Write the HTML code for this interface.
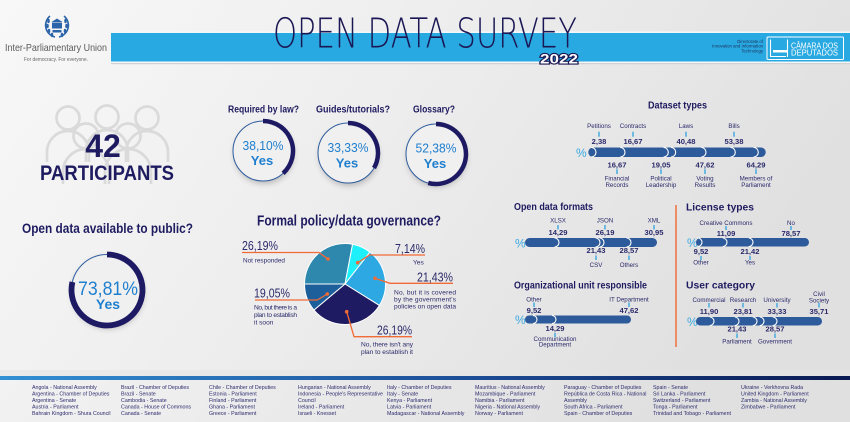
<!DOCTYPE html>
<html><head><meta charset="utf-8"><style>
html,body{margin:0;padding:0;width:850px;height:422px;overflow:hidden;background:#eee}
svg{display:block}
</style></head><body>
<svg width="850" height="422" viewBox="0 0 850 422" xmlns="http://www.w3.org/2000/svg" font-family="'Liberation Sans', Arial, sans-serif">
<defs>
<linearGradient id="bg" x1="0" y1="0" x2="1" y2="0.35">
<stop offset="0" stop-color="#f8f8f8"/><stop offset="0.5" stop-color="#ededed"/><stop offset="1" stop-color="#e0e0e0"/>
</linearGradient>
<linearGradient id="fb" x1="0" x2="1" y1="0" y2="0"><stop offset="0" stop-color="#3290d4"/><stop offset="0.55" stop-color="#1c4d97"/><stop offset="1" stop-color="#0a1a52"/></linearGradient>
<filter id="sh" x="-40%" y="-40%" width="180%" height="180%"><feDropShadow dx="1" dy="3" stdDeviation="3" flood-color="#000" flood-opacity="0.22"/></filter>
</defs>
<rect width="850" height="422" fill="url(#bg)"/>

<!-- HEADER -->
<rect x="111" y="31.5" width="739" height="31.5" fill="#f4f8fa"/>
<rect x="111" y="33" width="739" height="28.5" fill="#29a9e1"/>
<rect x="111" y="63" width="739" height="1.2" fill="#d0d0d0"/>

<!-- IPU emblem -->
<g stroke="#2b64a8" fill="none" stroke-width="1.6">
<path d="M50 16 A12 12 0 0 0 55 37"/>
<path d="M64 16 A12 12 0 0 1 59 37"/>
</g>
<g fill="#2b64a8">
<ellipse cx="48.5" cy="21" rx="1.3" ry="2.2"/><ellipse cx="47.5" cy="26" rx="1.3" ry="2.2"/><ellipse cx="49" cy="31" rx="1.3" ry="2.2"/><ellipse cx="52" cy="35" rx="1.3" ry="2.2"/>
<ellipse cx="65.5" cy="21" rx="1.3" ry="2.2"/><ellipse cx="66.5" cy="26" rx="1.3" ry="2.2"/><ellipse cx="65" cy="31" rx="1.3" ry="2.2"/><ellipse cx="62" cy="35" rx="1.3" ry="2.2"/>
<path d="M51.5 22 L57 18.5 L62.5 22 Z"/>
<rect x="52" y="22.5" width="10" height="6"/>
<rect x="52.5" y="30" width="9" height="2.5"/>
</g>
<text x="5" y="51" font-size="10.5" fill="#5b5b5b" textLength="102" lengthAdjust="spacingAndGlyphs">Inter-Parliamentary Union</text>
<text x="24" y="61" font-size="5.3" fill="#666" textLength="64" lengthAdjust="spacingAndGlyphs">For democracy. For everyone.</text>

<!-- Title -->
<text x="273" y="47.5" font-family="'DejaVu Sans','Liberation Sans',sans-serif" font-weight="200" font-size="41" fill="#1b1754" textLength="304" lengthAdjust="spacingAndGlyphs">OPEN DATA SURVEY</text>
<text x="540" y="63.5" font-size="14" font-weight="bold" fill="#ffffff" stroke="#1b1754" stroke-width="2.2" paint-order="stroke" textLength="38" lengthAdjust="spacingAndGlyphs">2022</text>

<!-- Camara logo -->
<g fill="#1d3462" font-size="4.3" text-anchor="end">
<text x="763" y="43">Directorate of</text>
<text x="763" y="47.7">Innovation and Information</text>
<text x="763" y="52.4">Technology</text>
</g>
<rect x="767" y="37" width="76.5" height="22.5" fill="none" stroke="#ffffff" stroke-width="1" rx="1"/>
<g stroke="#ffffff" stroke-width="1.1" fill="none">
<path d="M770.5 39.5 V56.5 H786"/>
<path d="M787.5 39.5 V57"/>
</g>
<rect x="773" y="50" width="14" height="2.5" fill="#ffffff"/>
<g fill="#ffffff" font-size="8">
<text x="791" y="48.3" textLength="47" lengthAdjust="spacingAndGlyphs">CÂMARA DOS</text>
<text x="791" y="55.3" textLength="47" lengthAdjust="spacingAndGlyphs">DEPUTADOS</text>
</g>

<!-- PEOPLE ICON -->
<g stroke="#dadada" stroke-width="2.7" fill="none">
<circle cx="68" cy="118" r="11.5"/><path d="M47 162 V152 A21 21 0 0 1 89 152 V162"/>
<circle cx="107" cy="117" r="11.5"/><path d="M86 162 V151 A21 21 0 0 1 128 151 V162"/>
<circle cx="147" cy="118" r="11.5"/><path d="M126 162 V152 A21 21 0 0 1 168 152 V162"/>
<circle cx="86" cy="136" r="12.5"/><path d="M63 184 V172 A23 23 0 0 1 109 172 V184"/>
<circle cx="128" cy="136" r="12.5"/><path d="M105 184 V172 A23 23 0 0 1 151 172 V184"/>
</g>
<text x="103" y="157" font-size="32" font-weight="bold" fill="#1e1b60" text-anchor="middle">42</text>
<text x="40" y="180" font-size="21" font-weight="bold" fill="#1e1b60" textLength="134" lengthAdjust="spacingAndGlyphs">PARTICIPANTS</text>

<!-- QUESTION CIRCLES -->
<g font-weight="bold" fill="#1e1b60" font-size="10" text-anchor="middle">
<text x="263.5" y="112.5" textLength="71" lengthAdjust="spacingAndGlyphs">Required by law?</text>
<text x="353" y="112.5" textLength="74" lengthAdjust="spacingAndGlyphs">Guides/tutorials?</text>
<text x="434" y="112.5" textLength="42" lengthAdjust="spacingAndGlyphs">Glossary?</text>
</g>
<g filter="url(#sh)" fill="#f0f0f0">
<circle cx="263" cy="151" r="30"/><circle cx="348" cy="153" r="30"/><circle cx="436" cy="154" r="30"/>
<circle cx="107" cy="290" r="36"/>
</g>
<g fill="none" stroke="#2d5c9e" stroke-width="1">
<circle cx="263" cy="151" r="30"/><circle cx="348" cy="153" r="30"/><circle cx="436" cy="154" r="30"/>
<circle cx="107" cy="290" r="35.5"/>
</g>
<g fill="none" stroke="#1d1a63" stroke-width="4.5">
<path d="M263 121 A30 30 0 0 1 283.1 173.3"/>
<path d="M348 123 A30 30 0 0 1 373.98 168"/>
<path d="M436 124 A30 30 0 1 1 428.24 182.98"/>
</g>
<path d="M107 254.5 A35.5 35.5 0 1 1 72.41 282.01" fill="none" stroke="#1d1a63" stroke-width="5.8"/>
<g fill="#1f7fcf" text-anchor="middle">
<text x="263" y="150" font-size="13" textLength="41" lengthAdjust="spacingAndGlyphs">38,10%</text>
<text x="262" y="165" font-size="13" font-weight="bold">Yes</text>
<text x="348" y="152" font-size="13" textLength="41" lengthAdjust="spacingAndGlyphs">33,33%</text>
<text x="347" y="167.5" font-size="13" font-weight="bold">Yes</text>
<text x="436" y="152.5" font-size="13" textLength="41" lengthAdjust="spacingAndGlyphs">52,38%</text>
<text x="435" y="168" font-size="13" font-weight="bold">Yes</text>
<text x="108" y="295" font-size="19" textLength="60" lengthAdjust="spacingAndGlyphs">73,81%</text>
<text x="108" y="309" font-size="14" font-weight="bold">Yes</text>
</g>

<text x="22" y="233" font-size="14" font-weight="bold" fill="#1e1b60" textLength="171" lengthAdjust="spacingAndGlyphs">Open data available to public?</text>

<!-- PIE -->
<text x="257" y="225.5" font-size="15" font-weight="bold" fill="#1e1b60" textLength="184" lengthAdjust="spacingAndGlyphs">Formal policy/data governance?</text>
<g stroke="#ffffff" stroke-width="1">
<path d="M345 284 L304.5 284 A40.5 40.5 0 0 1 352.59 244.22 Z" fill="#2e88ad"/>
<path d="M345 284 L352.59 244.22 A40.5 40.5 0 0 1 369.93 252.09 Z" fill="#1ef0fb"/>
<path d="M345 284 L369.93 252.09 A40.5 40.5 0 0 1 379.35 305.46 Z" fill="#2ea8e2"/>
<path d="M345 284 L379.35 305.46 A40.5 40.5 0 0 1 313.97 310.03 Z" fill="#1e1b63"/>
<path d="M345 284 L313.97 310.03 A40.5 40.5 0 0 1 304.5 284 Z" fill="#1c5f9a"/>
</g>
<g stroke="#f26a36" stroke-width="1.3" fill="none">
<path d="M242 252.5 H319 L328 259"/>
<path d="M425 255 H369.5 L357.7 262.7"/>
<path d="M453 283.3 H390 L375 278.3"/>
<path d="M255 300 H317.3 L327.3 294"/>
<path d="M412 336.7 H354 L346.7 311.7"/>
</g>
<g fill="#f26a36">
<circle cx="328" cy="259" r="1.8"/><circle cx="357.7" cy="262.7" r="1.8"/><circle cx="375" cy="278.3" r="1.8"/><circle cx="327.3" cy="294" r="1.8"/><circle cx="346.7" cy="311.7" r="1.8"/>
</g>
<g fill="#2b2a6b">
<text x="242" y="250" font-size="13" textLength="36" lengthAdjust="spacingAndGlyphs">26,19%</text>
<text x="243" y="262.5" font-size="6.6" textLength="42" lengthAdjust="spacingAndGlyphs">Not responded</text>
<text x="395" y="253" font-size="13" textLength="30" lengthAdjust="spacingAndGlyphs">7,14%</text>
<text x="413" y="264.5" font-size="6.6">Yes</text>
<text x="417" y="281.5" font-size="13" textLength="36" lengthAdjust="spacingAndGlyphs">21,43%</text>
<text x="394" y="294.5" font-size="6.6" textLength="62" lengthAdjust="spacing">No, but it is covered</text>
<text x="394" y="301.5" font-size="6.6" textLength="62" lengthAdjust="spacing">by the government's</text>
<text x="394" y="308.5" font-size="6.6" textLength="62" lengthAdjust="spacing">policies on open data</text>
<text x="254" y="297.5" font-size="13" textLength="36" lengthAdjust="spacingAndGlyphs">19,05%</text>
<text x="254" y="309.5" font-size="6.6" textLength="43" lengthAdjust="spacing">No, but there is a</text>
<text x="254" y="317" font-size="6.6" textLength="43" lengthAdjust="spacing">plan to establish</text>
<text x="254" y="324.5" font-size="6.6">it soon</text>
<text x="377" y="334.5" font-size="13" textLength="35" lengthAdjust="spacingAndGlyphs">26,19%</text>
<text x="361" y="346.5" font-size="6.6" textLength="52" lengthAdjust="spacing">No, there isn't any</text>
<text x="361" y="354" font-size="6.6" textLength="52" lengthAdjust="spacing">plan to establish it</text>
</g>

<!-- RIGHT SECTION -->
<line x1="676" y1="205" x2="676" y2="347" stroke="#f0703c" stroke-width="1.5"/>
<g font-weight="bold" fill="#1e1b60">
<text x="648" y="108.5" font-size="10.5" textLength="59" lengthAdjust="spacingAndGlyphs">Dataset types</text>
<text x="514" y="210" font-size="10.5" textLength="79" lengthAdjust="spacingAndGlyphs">Open data formats</text>
<text x="514" y="288.3" font-size="10.5" textLength="133" lengthAdjust="spacingAndGlyphs">Organizational unit responsible</text>
<text x="686" y="210.5" font-size="10.5" textLength="68" lengthAdjust="spacingAndGlyphs">License types</text>
<text x="686" y="288.3" font-size="10.5" textLength="69" lengthAdjust="spacingAndGlyphs">User category</text>
</g>
<g fill="#3aa7e0" font-size="12">
<text x="576" y="157">%</text>
<text x="515" y="247.5">%</text>
<text x="515" y="324">%</text>
<text x="687" y="247">%</text>
<text x="687" y="326">%</text>
</g>
<!-- bars -->
<g fill="#2d5a9b">
<rect x="588.3" y="147.5" width="177.4" height="9.5" rx="4.75"/>
<rect x="525" y="238" width="132" height="9" rx="4.5"/>
<rect x="525" y="315.5" width="106" height="8" rx="4"/>
<rect x="696" y="238" width="113" height="8.5" rx="4.25"/>
<rect x="696" y="317" width="126" height="8.5" rx="4.25"/>
</g>
<g fill="none" stroke="#ffffff" stroke-width="1.1">
<path d="M591.25 147.5 A4.75 4.75 0 0 1 591.25 157 M620.25 147.5 A4.75 4.75 0 0 1 620.25 157 M663.55 147.5 A4.75 4.75 0 0 1 663.55 157 M670.95 147.5 A4.75 4.75 0 0 1 670.95 157 M701.25 147.5 A4.75 4.75 0 0 1 701.25 157 M730.55 147.5 A4.75 4.75 0 0 1 730.55 157 M753.55 147.5 A4.75 4.75 0 0 1 753.55 157"/>
<path d="M554.5 238 A4.5 4.5 0 0 1 554.5 247 M595.5 238 A4.5 4.5 0 0 1 595.5 247 M599.5 238 A4.5 4.5 0 0 1 599.5 247 M626.5 238 A4.5 4.5 0 0 1 626.5 247"/>
<path d="M533 315.5 A4 4 0 0 1 533 323.5 M552 315.5 A4 4 0 0 1 552 323.5"/>
<path d="M697.75 238 A4.25 4.25 0 0 1 697.75 246.5 M722.75 238 A4.25 4.25 0 0 1 722.75 246.5 M748.75 238 A4.25 4.25 0 0 1 748.75 246.5"/>
<path d="M709.75 317 A4.25 4.25 0 0 1 709.75 325.5 M734.75 317 A4.25 4.25 0 0 1 734.75 325.5 M752.75 317 A4.25 4.25 0 0 1 752.75 325.5 M759.75 317 A4.25 4.25 0 0 1 759.75 325.5 M772.75 317 A4.25 4.25 0 0 1 772.75 325.5"/>
</g>
<!-- ticks -->
<g stroke="#3aa7e0" stroke-width="1.4">
<path d="M599 131.7 V136.7 M633 131.7 V136.7 M686 131.7 V136.7 M734 131.7 V136.7 M617 169.3 V174 M661 169.3 V174 M705 169.3 V174 M756 169.3 V174"/>
<path d="M558 225 V229.5 M605 225 V229.5 M654 225 V229.5 M596 255.5 V260 M629 255.5 V260"/>
<path d="M534 302.5 V307 M629 302.5 V307 M555 333 V337"/>
<path d="M726 226 V230 M791 226 V230 M701 256 V260 M750 256 V260"/>
<path d="M709 303 V307.5 M743 303 V307.5 M777 303 V307.5 M819 303 V307.5 M737 333.5 V338 M775 333.5 V338"/>
</g>
<!-- small labels -->
<g fill="#2b2a6b" font-size="6.2" text-anchor="middle">
<text x="599" y="128">Petitions</text><text x="633" y="128">Contracts</text><text x="686" y="128">Laws</text><text x="734" y="128">Bills</text>
<text x="617" y="180.5">Financial</text><text x="617" y="186.8">Records</text>
<text x="661" y="180.5">Political</text><text x="661" y="186.8">Leadership</text>
<text x="705" y="180.5">Voting</text><text x="705" y="186.8">Results</text>
<text x="756" y="180.5">Members of</text><text x="756" y="186.8">Parliament</text>
<text x="558" y="222.5">XLSX</text><text x="605" y="222.5">JSON</text><text x="654" y="222.5">XML</text>
<text x="596" y="267">CSV</text><text x="629" y="267">Others</text>
<text x="534" y="301.5">Other</text><text x="629" y="301.5">IT Department</text>
<text x="555" y="341">Communication</text><text x="555" y="346.7">Department</text>
<text x="726" y="225">Creative Commons</text><text x="791" y="225">No</text>
<text x="701" y="264.5">Other</text><text x="750" y="264.5">Yes</text>
<text x="709" y="302">Commercial</text><text x="743" y="302">Research</text><text x="777" y="302">University</text>
<text x="819" y="296">Civil</text><text x="819" y="302.3">Society</text>
<text x="737" y="343.5">Parliament</text><text x="775" y="343.5">Government</text>
</g>
<g fill="#2b2a6b" font-size="7.6" font-weight="bold" text-anchor="middle">
<text x="599" y="144">2,38</text><text x="633" y="144">16,67</text><text x="686" y="144">40,48</text><text x="734" y="144">53,38</text>
<text x="617" y="167.3">16,67</text><text x="661" y="167.3">19,05</text><text x="705" y="167.3">47,62</text><text x="756" y="167.3">64,29</text>
<text x="558" y="235">14,29</text><text x="605" y="235">26,19</text><text x="654" y="235">30,95</text>
<text x="596" y="253">21,43</text><text x="629" y="253">28,57</text>
<text x="534" y="313">9,52</text><text x="629" y="313">47,62</text>
<text x="555" y="331">14,29</text>
<text x="726" y="236">11,09</text><text x="791" y="236">78,57</text>
<text x="701" y="254">9,52</text><text x="750" y="254">21,42</text>
<text x="709" y="314">11,90</text><text x="743" y="314">23,81</text><text x="777" y="314">33,33</text><text x="819" y="314">35,71</text>
<text x="737" y="331.5">21,43</text><text x="775" y="331.5">28,57</text>
</g>

<!-- FOOTER -->
<rect x="0" y="370" width="850" height="6" fill="#e4e4e4" opacity="0.6"/>
<rect x="0" y="376" width="850" height="4" fill="url(#fb)"/>
<g fill="#2c2b6e" font-size="5.3">
<text x="32" y="389">Angola - National Assembly</text>
<text x="32" y="395.5">Argentina - Chamber of Deputies</text>
<text x="32" y="402">Argentina - Senate</text>
<text x="32" y="408.5">Austria - Parliament</text>
<text x="32" y="415">Bahrain Kingdom - Shura Council</text>
<text x="121" y="389">Brazil - Chamber of Deputies</text>
<text x="121" y="395.5">Brazil - Senate</text>
<text x="121" y="402">Cambodia - Senate</text>
<text x="121" y="408.5">Canada - House of Commons</text>
<text x="121" y="415">Canada - Senate</text>
<text x="209" y="389">Chile - Chamber of Deputies</text>
<text x="209" y="395.5">Estonia - Parliament</text>
<text x="209" y="402">Finland - Parliament</text>
<text x="209" y="408.5">Ghana - Parliament</text>
<text x="209" y="415">Greece - Parliament</text>
<text x="298" y="389">Hungarian - National Assembly</text>
<text x="298" y="395.5">Indonesia - People's Representative</text>
<text x="298" y="402">Council</text>
<text x="298" y="408.5">Ireland - Parliament</text>
<text x="298" y="415">Israeli - Knesset</text>
<text x="387" y="389">Italy - Chamber of Deputies</text>
<text x="387" y="395.5">Italy - Senate</text>
<text x="387" y="402">Kenya - Parliament</text>
<text x="387" y="408.5">Latvia - Parliament</text>
<text x="387" y="415">Madagascar - National Assembly</text>
<text x="475" y="389">Mauritius - National Assembly</text>
<text x="475" y="395.5">Mozambique - Parliament</text>
<text x="475" y="402">Namibia - Parliament</text>
<text x="475" y="408.5">Nigeria - National Assembly</text>
<text x="475" y="415">Norway - Parliament</text>
<text x="564" y="389">Paraguay - Chamber of Deputies</text>
<text x="564" y="395.5">República de Costa Rica - National</text>
<text x="564" y="402">Assembly</text>
<text x="564" y="408.5">South Africa - Parliament</text>
<text x="564" y="415">Spain - Chamber of Deputies</text>
<text x="653" y="389">Spain - Senate</text>
<text x="653" y="395.5">Sri Lanka - Parliament</text>
<text x="653" y="402">Switzerland - Parliament</text>
<text x="653" y="408.5">Tonga - Parliament</text>
<text x="653" y="415">Trinidad and Tobago - Parliament</text>
<text x="741" y="389">Ukraine - Verkhovna Rada</text>
<text x="741" y="395.5">United Kingdom - Parliament</text>
<text x="741" y="402">Zambia - National Assembly</text>
<text x="741" y="408.5">Zimbabwe - Parliament</text>
</g>
</svg>
</body></html>
